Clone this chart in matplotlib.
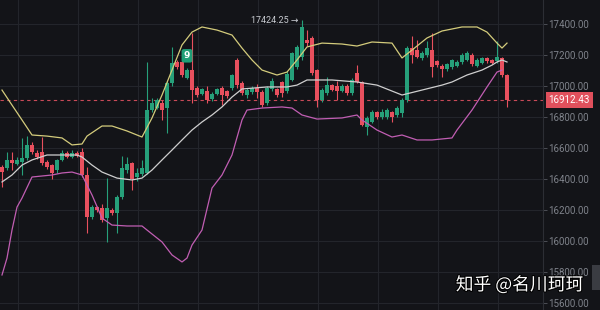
"""Dark candlestick chart with Bollinger bands, recreated from a screenshot."""

import matplotlib
matplotlib.use("Agg")
import matplotlib.pyplot as plt
import matplotlib.patheffects as pe
import numpy as np
from matplotlib.patches import Rectangle


# candles (open, high, low, close)
opens = [16477, 16471, 16523, 16500, 16510, 16535, 16619, 16570, 16574, 16510,
         16490, 16458, 16523, 16568, 16545, 16570, 16574, 16426, 16155, 16219,
         16213, 16150, 16200, 16180, 16284, 16460, 16503, 16410, 16430, 16439,
         16845, 16860, 16890, 16858, 17019, 17155, 17155, 17052, 17103, 16987,
         16950, 16970, 16915, 16950, 16990, 16970, 16987, 17168, 17019, 16940,
         16960, 16990, 16960, 16890, 16980, 16980, 17026, 16965, 17039, 17123,
         17187, 17300, 17310, 17103, 16910, 16955, 17006, 17000, 16970, 17000,
         16955, 17084, 17026, 16735, 16768, 16832, 16800, 16800, 16830, 16810,
         16826, 16910, 17245, 17230, 17180, 17200, 17232, 17160, 17130, 17110,
         17120, 17130, 17155, 17168, 17200, 17130, 17150, 17180, 17170, 17160,
         17181, 17071]
highs = [16490, 16574, 16574, 16540, 16665, 16680, 16640, 16590, 16670, 16520,
         16500, 16530, 16590, 16580, 16585, 16580, 16600, 16477, 16230, 16225,
         16240, 16406, 16215, 16300, 16550, 16540, 16510, 16470, 16520, 17155,
         16920, 16925, 16910, 17030, 17250, 17170, 17170, 17115, 17340, 17000,
         16990, 17000, 16960, 16990, 17000, 16975, 17080, 17180, 17030, 16985,
         17000, 17010, 16975, 17000, 17050, 16990, 17030, 17095, 17220, 17265,
         17424.25, 17360, 17320, 17110, 16985, 17060, 17015, 17030, 17010, 17010,
         17050, 17135, 17035, 16805, 16845, 16840, 16850, 16860, 16840, 16870,
         16920, 17260, 17320, 17300, 17225, 17290, 17342, 17170, 17140, 17150,
         17175, 17165, 17215, 17225, 17210, 17180, 17190, 17190, 17175, 17290,
         17190, 17080]
lows = [16348, 16458, 16458, 16490, 16426, 16520, 16560, 16530, 16490, 16465,
        16400, 16440, 16515, 16535, 16535, 16540, 16410, 16052, 16140, 16190,
        16120, 15994, 16170, 16052, 16270, 16440, 16330, 16390, 16420, 16430,
        16830, 16850, 16781, 16697, 17000, 17110, 17060, 17045, 16890, 16930,
        16940, 16890, 16905, 16940, 16880, 16925, 16975, 16990, 16940, 16920,
        16950, 16920, 16865, 16880, 16970, 16930, 16930, 16955, 17030, 17110,
        17170, 17260, 17070, 16865, 16900, 16945, 16965, 16910, 16960, 16945,
        16945, 17020, 16740, 16684, 16760, 16790, 16790, 16790, 16770, 16800,
        16800, 16900, 17150, 17180, 17170, 17190, 17058, 17125, 17060, 17100,
        17110, 17120, 17145, 17160, 17130, 17120, 17140, 17150, 17140, 17150,
        17060, 16865]
closes = [16445, 16523, 16503, 16525, 16535, 16619, 16574, 16545, 16503, 16477,
          16439, 16523, 16568, 16545, 16570, 16550, 16426, 16155, 16219, 16200,
          16135, 16210, 16180, 16284, 16471, 16500, 16400, 16440, 16470, 16845,
          16890, 16910, 16845, 17019, 17148, 17123, 17071, 17103, 16974, 16942,
          16980, 16910, 16950, 16980, 16945, 16935, 17071, 17006, 16955, 16975,
          16990, 16960, 16880, 16987, 17030, 16940, 16955, 17080, 17213, 17252,
          17381, 17277, 17084, 16910, 16974, 17006, 16974, 16970, 17000, 16955,
          17039, 17026, 16748, 16794, 16832, 16800, 16832, 16845, 16800, 16860,
          16910, 17245, 17200, 17190, 17215, 17245, 17123, 17135, 17110, 17140,
          17165, 17155, 17200, 17213, 17140, 17170, 17180, 17160, 17150, 17190,
          17071, 16912.43]

# Bollinger bands, sampled at candle indices
upper_idx = [0, 2, 4, 6, 9, 12, 14, 16, 17, 20, 22, 25, 28, 30, 32, 34, 36, 38,
             40, 43, 46, 48, 50, 52, 55, 57, 59, 61, 64, 68, 71, 74, 78, 80, 82,
             85, 88, 92, 95, 97, 99, 100, 101]
upper = [16974, 16877, 16781, 16684, 16677, 16665, 16620, 16626, 16677, 16742,
         16742, 16710, 16671, 16794, 16942, 17103, 17265, 17348, 17381, 17361,
         17329, 17245, 17168, 17103, 17071, 17090, 17168, 17252, 17277, 17271,
         17258, 17284, 17277, 17181, 17232, 17310, 17355, 17381, 17381, 17348,
         17277, 17245, 17277]
middle_idx = [0, 2, 4, 6, 9, 12, 15, 16, 18, 20, 23, 26, 28, 30, 32, 34, 36, 38,
              40, 42, 44, 46, 48, 53, 57, 59, 61, 66, 71, 75, 80, 84, 88, 90, 93,
              96, 98, 99, 100, 101]
middle = [16381, 16426, 16490, 16523, 16555, 16555, 16555, 16542, 16490, 16445,
          16406, 16394, 16406, 16458, 16523, 16587, 16652, 16716, 16768, 16813,
          16865, 16929, 16981, 16994, 16994, 17006, 17039, 17039, 17026, 17006,
          16942, 16974, 17006, 17026, 17071, 17103, 17135, 17155, 17168, 17155]
lower_idx = [0, 1, 2, 3, 4, 6, 10, 12, 14, 16, 18, 20, 22, 25, 28, 29, 32, 34,
             36, 37, 38, 40, 42, 44, 46, 48, 49, 52, 56, 58, 60, 63, 68, 71, 72,
             75, 78, 80, 83, 86, 90, 91, 94, 97, 99, 100]
lower = [15781, 15890, 16071, 16219, 16277, 16413, 16426, 16439, 16445, 16426,
         16297, 16148, 16103, 16097, 16097, 16071, 15994, 15910, 15865, 15890,
         15974, 16071, 16342, 16426, 16555, 16781, 16845, 16858, 16865, 16858,
         16813, 16787, 16794, 16813, 16781, 16716, 16671, 16684, 16652, 16652,
         16665, 16716, 16845, 16994, 17090, 17103]

y_ticks = [15600, 15800, 16000, 16200, 16400, 16600, 16800, 17000, 17200, 17400]
last_price = 16912.43
high_label = 17424.25

BG = "#131418"
GRID = "#23252b"
UP = "#26a07a"
DOWN = "#e8505e"

fig = plt.figure(figsize=(6, 3.1), dpi=100, facecolor=BG)
ax = fig.add_axes([0, 0, 543 / 600, 1], facecolor=BG)

x = np.arange(len(opens))
o = np.array(opens)
c = np.array(closes)
colors = [UP if cc >= oo else DOWN for oo, cc in zip(o, c)]

ax.vlines(x, lows, highs, colors=colors, linewidth=0.8, zorder=2)
body = np.maximum(np.abs(c - o), 4)
ax.bar(x, body, bottom=np.minimum(o, c), width=0.62, color=colors,
       linewidth=0, zorder=2)

ax.plot(upper_idx, upper, color="#d4cc7c", linewidth=0.9, zorder=3)
ax.plot(middle_idx, middle, color="#cfcfcf", linewidth=0.9, zorder=3)
ax.plot(lower_idx, lower, color="#c15eb3", linewidth=0.9, zorder=3)

ax.axhline(last_price, color="#c94a58", linewidth=0.8, dashes=(3, 3), zorder=1)

ax.set_xlim(-0.4, 108.2)
ax.set_ylim(15555, 17555)
ax.set_xticks(np.arange(3.2, 108, 12))
ax.set_xticklabels([])
ax.tick_params(axis="x", length=0)
ax.set_yticks(y_ticks)
ax.set_yticklabels([f"{v:.2f}" for v in y_ticks])
ax.yaxis.tick_right()
ax.tick_params(axis="y", length=3, width=0.6, color="#55585f", pad=1,
               labelcolor="#7f838b", labelsize=7)
for label in ax.get_yticklabels():
    label.set_family(["Roboto", "DejaVu Sans"])
ax.grid(True, color=GRID, linewidth=0.8)
for side in ["top", "bottom", "left"]:
    ax.spines[side].set_visible(False)
ax.spines["right"].set_color("#2c2e34")
ax.spines["right"].set_linewidth(0.8)

# last price tag
ax.annotate(f"{last_price:.2f}", xy=(1.0, last_price),
            xycoords=("axes fraction", "data"), xytext=(4, 0),
            textcoords="offset points", ha="left", va="center",
            fontsize=7, color="white", family=["Roboto", "DejaVu Sans"],
            bbox=dict(boxstyle="square,pad=0.3", facecolor="#e0505c",
                      edgecolor="none"), annotation_clip=False)

# high marker and the "9" sequence badge
ax.text(59.2, high_label, f"{high_label:.2f} →", ha="right", va="center",
        fontsize=6.5, color="#c9ccd2", family=["Roboto", "DejaVu Sans"],
        zorder=4)
ax.text(37, 17195, "9", ha="center", va="center", fontsize=6.5,
        color="white", fontweight="bold", zorder=4,
        bbox=dict(boxstyle="round,pad=0.25", facecolor="#1f9e76",
                  edgecolor="none"))

# scroll tab and watermark
fig.patches.append(Rectangle((592 / 600, 20 / 310), 8 / 600, 25 / 310,
                             transform=fig.transFigure, facecolor="#3a3c42",
                             edgecolor="none"))
watermark = fig.text(583 / 600, 25 / 310, "知乎 @名川珂珂", ha="right",
                     va="center", fontsize=12.8, color="white",
                     family=["Noto Sans CJK SC", "DejaVu Sans"])
watermark.set_path_effects([pe.withStroke(linewidth=1.5, foreground="#000000")])

fig.savefig("out.png", dpi=100, facecolor=BG)
